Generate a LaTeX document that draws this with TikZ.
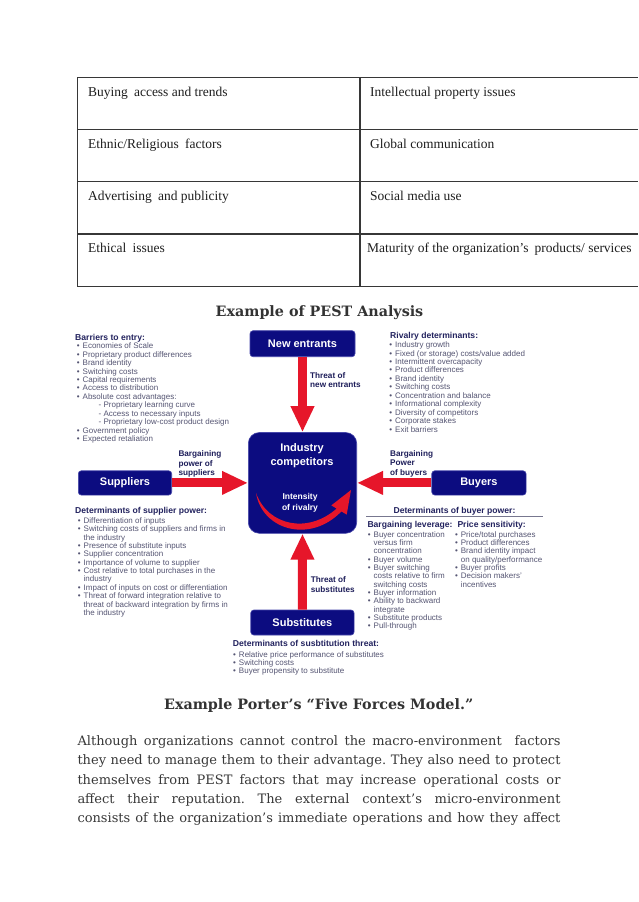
\documentclass[tikz,border=0pt]{standalone}
\usepackage{fontspec}
\setmainfont{Liberation Serif}
\newfontfamily\sansf{Liberation Sans}
\newfontfamily\georg{DejaVu Serif}
\usetikzlibrary{arrows.meta}
\definecolor{navy}{RGB}{12,12,128}
\definecolor{navyedge}{RGB}{70,70,170}
\definecolor{redc}{RGB}{230,22,42}
\definecolor{listc}{RGB}{85,85,115}
\definecolor{hdrc}{RGB}{35,35,95}
\definecolor{lblc}{RGB}{30,30,90}
\definecolor{tline}{RGB}{55,55,55}
\definecolor{ttext}{RGB}{30,30,30}
\newcommand{\bu}{\llap{•\hspace{3pt}}}
\frenchspacing
\begin{document}
\begin{tikzpicture}[x=1pt,y=-1pt,
  tabline/.style={draw=tline,line width=1.2pt},
  tcell/.style={anchor=base west,inner sep=0pt,text=ttext,font=\fontsize{13.5}{16}\selectfont},
  ttl/.style={anchor=base,inner sep=0pt,text=black!80,font=\georg\bfseries\fontsize{14.3}{17}\selectfont},
  para/.style={anchor=base west,inner sep=0pt,text=black!78,font=\georg\fontsize{13}{15}\selectfont},
  lst/.style={anchor=base west,inner sep=0pt,text=listc,font=\sansf\fontsize{8}{9}\selectfont},
  hdr/.style={anchor=base west,inner sep=0pt,text=hdrc,font=\sansf\bfseries\fontsize{8.6}{10}\selectfont},
  lbl/.style={anchor=base west,inner sep=0pt,text=lblc,font=\sansf\bfseries\fontsize{8.2}{9}\selectfont},
  forcebox/.style={fill=navy,draw=navyedge,line width=0.6pt,rounded corners=3pt,text=white,inner sep=0pt,font=\sansf\bfseries\fontsize{11}{13}\selectfont},
  boxtext/.style={anchor=base,inner sep=0pt,text=white,font=\sansf\bfseries\fontsize{11}{13}\selectfont},
  rivtext/.style={anchor=base,inner sep=0pt,text=white,font=\sansf\bfseries\fontsize{8.5}{10}\selectfont},
  forcearrow/.style={draw=redc,line width=9pt,-{Triangle[width=22pt,length=26pt]}}
]
\useasboundingbox (0,0) rectangle (638,902);
\fill[white] (0,0) rectangle (638,902);

% ---------- table ----------
\foreach \yy in {77.3,129.3,181.7,234,286.7} \draw[tabline] (77.3,\yy) -- (638,\yy);
\draw[tabline] (77.3,77.3) -- (77.3,286.7);
\draw[tabline] (360,77.3) -- (360,286.7);
\node[tcell] (t11) at (88,96) {Buying\hspace{0.2em} access and trends};
\node[tcell] (t12) at (370,96) {Intellectual property issues};
\node[tcell] (t21) at (88,148.3) {Ethnic/Religious\hspace{0.2em} factors};
\node[tcell] (t22) at (370,148.3) {Global communication};
\node[tcell] (t31) at (88,200.3) {Advertising\hspace{0.2em} and publicity};
\node[tcell] (t32) at (370,200.3) {Social media use};
\node[tcell] (t41) at (88,252.7) {Ethical\hspace{0.2em} issues};
\node[tcell] (t42) at (367,252.7) {Maturity of the organization’s\hspace{0.2em} products/ services};

% ---------- title ----------
\node[ttl] (title1) at (319.5,316) {Example of PEST Analysis};

% ---------- boxes ----------
\node[forcebox,minimum width=105pt,minimum height=26pt] (ne) at (302.5,343.7) {New entrants};
\node[forcebox,minimum width=93.4pt,minimum height=24.3pt] (sup) at (125,482.9) {Suppliers};
\node[forcebox,minimum width=94.3pt,minimum height=24.3pt] (buy) at (478.9,482.9) {Buyers};
\node[forcebox,minimum width=103.3pt,minimum height=25pt] (sub) at (302.4,622.5) {Substitutes};
\node[forcebox,rounded corners=11pt,minimum width=108.4pt,minimum height=100.8pt] (ic) at (302.5,482.9) {};

% ---------- force arrows ----------
\draw[forcearrow] (ne.south) -- (ic.north);
\draw[forcearrow] (sup.east) -- (ic.west);
\draw[forcearrow] (buy.west) -- (ic.east);
\draw[forcearrow] (sub.north) -- (ic.south);

% ---------- industry texts + rivalry arrow ----------
\node[boxtext] (ic1) at (302,451.3) {Industry};
\node[boxtext] (ic2) at (302,465) {competitors};
\fill[redc] (256,493) .. controls (262,530) and (310,544) .. (341.4,511.4)
   -- (346.7,514.6) -- (351,490) -- (331.3,505.4) -- (336.6,508.6)
   .. controls (308,534) and (268,526) .. (256,493) -- cycle;
\node[rivtext] (iv1) at (300,499.6) {Intensity};
\node[rivtext] (iv2) at (300,510.2) {of rivalry};

% ---------- arrow labels ----------
\node[lbl] (lne1) at (310,378) {Threat of};
\node[lbl] (lne2) at (310,387.3) {new entrants};
\node[lbl] (lsu1) at (178.3,456) {Bargaining};
\node[lbl] (lsu2) at (178.3,466) {power of};
\node[lbl] (lsu3) at (178.3,475.5) {suppliers};
\node[lbl] (lbu1) at (390,456) {Bargaining};
\node[lbl] (lbu2) at (390,465.5) {Power};
\node[lbl] (lbu3) at (390,475) {of buyers};
\node[lbl] (lsb1) at (310.7,582) {Threat of};
\node[lbl] (lsb2) at (310.7,592) {substitutes};

% ---------- barriers to entry ----------
\node[hdr] (barh) at (75,340.5) {Barriers to entry:};
\foreach \t [count=\i from 0] in {{\bu Economies of Scale},{\bu Proprietary product differences},{\bu Brand identity},{\bu Switching costs},{\bu Capital requirements},{\bu Access to distribution},{\bu Absolute cost advantages:},{\hspace*{16pt}- Proprietary learning curve},{\hspace*{16pt}- Access to necessary inputs},{\hspace*{16pt}- Proprietary low-cost product design},{\bu Government policy},{\bu Expected retaliation}}
  \node[lst] (bar\i) at (82.5,348.7+8.45*\i) {\t};

% ---------- rivalry determinants ----------
\node[hdr] (rivh) at (390,338.8) {Rivalry determinants:};
\foreach \t [count=\i from 0] in {{\bu Industry growth},{\bu Fixed (or storage) costs/value added},{\bu Intermittent overcapacity},{\bu Product differences},{\bu Brand identity},{\bu Switching costs},{\bu Concentration and balance},{\bu Informational complexity},{\bu Diversity of competitors},{\bu Corporate stakes},{\bu Exit barriers}}
  \node[lst] (riv\i) at (395,347.7+8.43*\i) {\t};

% ---------- supplier power ----------
\node[hdr] (suph) at (75,513.5) {Determinants of supplier power:};
\foreach \t [count=\i from 0] in {{\bu Differentiation of inputs},{\bu Switching costs of suppliers and firms in},{the industry},{\bu Presence of substitute inputs},{\bu Supplier concentration},{\bu Importance of volume to supplier},{\bu Cost relative to total purchases in the},{industry},{\bu Impact of inputs on cost or differentiation},{\bu Threat of forward integration relative to},{threat of backward integration by firms in},{the industry}}
  \node[lst] (spl\i) at (83.5,523.4+8.36*\i) {\t};

% ---------- buyer power ----------
\node[hdr,anchor=base] (buyh) at (454.5,513.5) {Determinants of buyer power:};
\draw[listc!80,line width=0.8pt] (366,516.5) -- (543.3,516.5);
\node[hdr] (levh) at (367.3,527.8) {Bargaining leverage:};
\foreach \t [count=\i from 0] in {{\bu Buyer concentration},{versus firm},{concentration},{\bu Buyer volume},{\bu Buyer switching},{costs relative to firm},{switching costs},{\bu Buyer information},{\bu Ability to backward},{integrate},{\bu Substitute products},{\bu Pull-through}}
  \node[lst] (lev\i) at (373.5,537+8.34*\i) {\t};
\node[hdr] (prch) at (457.3,527.8) {Price sensitivity:};
\foreach \t [count=\i from 0] in {{\bu Price/total purchases},{\bu Product differences},{\bu Brand identity impact},{on quality/performance},{\bu Buyer profits},{\bu Decision makers’},{incentives}}
  \node[lst] (prc\i) at (460.7,537+8.34*\i) {\t};

% ---------- substitution threat ----------
\node[hdr] (sbh) at (232.7,646.8) {Determinants of susbtitution threat:};
\foreach \t [count=\i from 0] in {{\bu Relative price performance of substitutes},{\bu Switching costs},{\bu Buyer propensity to substitute}}
  \node[lst] (sbt\i) at (238.8,657+8.1*\i) {\t};

% ---------- caption and paragraph ----------
\node[ttl] (title2) at (318.7,709.5) {Example Porter’s “Five Forces Model.”};
\node[para] (p1) at (77.3,745.6) {\makebox[483pt][s]{Although organizations cannot control the macro-environment\ \ factors}};
\node[para] (p2) at (77.3,764.8) {\makebox[483pt][s]{they need to manage them to their advantage. They also need to protect}};
\node[para] (p3) at (77.3,784.2) {\makebox[483pt][s]{themselves from PEST factors that may increase operational costs or}};
\node[para] (p4) at (77.3,803.5) {\makebox[483pt][s]{affect their reputation. The external context’s micro-environment}};
\node[para] (p5) at (77.3,822.6) {\makebox[483pt][s]{consists of the organization’s immediate operations and how they affect}};
\end{tikzpicture}
\end{document}
